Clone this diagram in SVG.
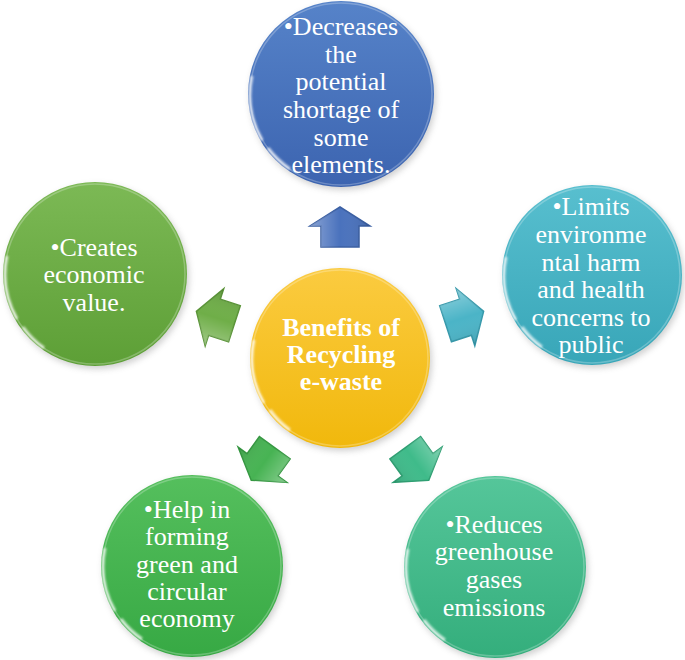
<svg xmlns="http://www.w3.org/2000/svg" width="685" height="660" viewBox="0 0 685 660">
<defs>
<filter id="blur" x="-20%" y="-20%" width="140%" height="140%"><feGaussianBlur stdDeviation="3"/></filter>
<filter id="soft" x="-20%" y="-20%" width="140%" height="140%"><feGaussianBlur stdDeviation="1.2"/></filter>
<linearGradient id="gBlue" x1="0" y1="0" x2="0" y2="1"><stop offset="0" stop-color="#5683c9"/><stop offset="1" stop-color="#3c64b0"/></linearGradient>
<linearGradient id="gTeal" x1="0" y1="0" x2="0" y2="1"><stop offset="0" stop-color="#58bfcf"/><stop offset="1" stop-color="#38a6b8"/></linearGradient>
<linearGradient id="gLime" x1="0" y1="0" x2="0" y2="1"><stop offset="0" stop-color="#7cb955"/><stop offset="1" stop-color="#5d9f36"/></linearGradient>
<linearGradient id="gGreen" x1="0" y1="0" x2="0" y2="1"><stop offset="0" stop-color="#55bf5d"/><stop offset="1" stop-color="#37a944"/></linearGradient>
<linearGradient id="gMint" x1="0" y1="0" x2="0" y2="1"><stop offset="0" stop-color="#55c69a"/><stop offset="1" stop-color="#34ae7c"/></linearGradient>
<linearGradient id="gYellow" x1="0" y1="0" x2="0" y2="1"><stop offset="0" stop-color="#fbcb40"/><stop offset="1" stop-color="#f1b80c"/></linearGradient>
<linearGradient id="aFace" x1="0" y1="0" x2="1" y2="0"><stop offset="0" stop-color="#fff" stop-opacity="0.35"/><stop offset="0.5" stop-color="#fff" stop-opacity="0"/><stop offset="1" stop-color="#000" stop-opacity="0.12"/></linearGradient>
<path id="arrowShape" d="M0,-151 L30,-132 L19,-132 L19,-111 L-19,-111 L-19,-132 L-30,-132 Z"/>
</defs>
<style>
.shadow{fill:#7a7a7a;opacity:0.35;filter:url(#blur)}
.rim{fill:none;stroke:#ffffff;stroke-width:3;stroke-opacity:0.75;filter:url(#soft)}
.edge{fill:none;stroke:#ffffff;stroke-opacity:0.25;stroke-width:1.5}
.t{font-family:"Liberation Serif","Times New Roman",serif;font-size:26px;fill:#ffffff;text-anchor:middle}
.tb{font-weight:bold}
.arrow-hi{fill:url(#aFace)}
</style>

<g id="connectors">
  <g transform="translate(340,358) rotate(0)"><use href="#arrowShape" fill="#4a72bd" stroke="#3a5fa3" stroke-width="1.5"/><use href="#arrowShape" class="arrow-hi"/></g>
  <g transform="translate(340,358) rotate(72)"><use href="#arrowShape" fill="#4bb4c7" stroke="#3799ab" stroke-width="1.5"/><use href="#arrowShape" class="arrow-hi"/></g>
  <g transform="translate(340,358) rotate(144)"><use href="#arrowShape" fill="#3fbb8a" stroke="#2e9f72" stroke-width="1.5"/><use href="#arrowShape" class="arrow-hi"/></g>
  <g transform="translate(340,358) rotate(216)"><use href="#arrowShape" fill="#47b353" stroke="#359841" stroke-width="1.5"/><use href="#arrowShape" class="arrow-hi"/></g>
  <g transform="translate(340,358) rotate(288)"><use href="#arrowShape" fill="#6fae48" stroke="#5a9438" stroke-width="1.5"/><use href="#arrowShape" class="arrow-hi"/></g>
</g>

<g id="center">
  <circle class="shadow" cx="342" cy="361" r="90"/>
  <circle cx="340" cy="358" r="90" fill="url(#gYellow)"/>
  <circle class="edge" cx="340" cy="358" r="88"/>
  <path class="rim" d="M 263.8,403 A 88,88 0 0 1 254.0,340"/>
  <path class="rim" d="M 290,430 A 88,88 0 0 1 270,410"/>
  <text class="t tb" x="341" y="336">Benefits of</text>
  <text class="t tb" x="341" y="363">Recycling</text>
  <text class="t tb" x="341" y="390">e-waste</text>
</g>

<g id="top">
  <circle class="shadow" cx="343" cy="97" r="93"/>
  <circle cx="341" cy="94" r="93" fill="url(#gBlue)"/>
  <circle class="edge" cx="341" cy="94" r="91"/>
  <path class="rim" d="M 262.2,140.5 A 91,91 0 0 1 252.0,76"/>
  <path class="rim" d="M 290,169 A 91,91 0 0 1 268,148"/>
  <text class="t" x="341" y="35">•Decreases</text>
  <text class="t" x="341" y="63">the</text>
  <text class="t" x="341" y="90">potential</text>
  <text class="t" x="341" y="118">shortage of</text>
  <text class="t" x="341" y="146">some</text>
  <text class="t" x="341" y="173">elements.</text>
</g>

<g id="right">
  <circle class="shadow" cx="594" cy="278" r="90"/>
  <circle cx="592" cy="275" r="90" fill="url(#gTeal)"/>
  <circle class="edge" cx="592" cy="275" r="88"/>
  <path class="rim" d="M 515.8,320 A 88,88 0 0 1 506,257"/>
  <path class="rim" d="M 542,347 A 88,88 0 0 1 522,327"/>
  <text class="t" x="591" y="215">•Limits</text>
  <text class="t" x="591" y="243">environme</text>
  <text class="t" x="591" y="271">ntal harm</text>
  <text class="t" x="591" y="298">and health</text>
  <text class="t" x="591" y="326">concerns to</text>
  <text class="t" x="591" y="353">public</text>
</g>

<g id="left">
  <circle class="shadow" cx="97" cy="277" r="92"/>
  <circle cx="95" cy="274" r="92" fill="url(#gLime)"/>
  <circle class="edge" cx="95" cy="274" r="90"/>
  <path class="rim" d="M 17,319 A 90,90 0 0 1 7,256"/>
  <path class="rim" d="M 44,348 A 90,90 0 0 1 23,327"/>
  <text class="t" x="94" y="256">•Creates</text>
  <text class="t" x="94" y="283">economic</text>
  <text class="t" x="94" y="311">value.</text>
</g>

<g id="bottom-left">
  <circle class="shadow" cx="194" cy="569" r="91"/>
  <circle cx="192" cy="566" r="91" fill="url(#gGreen)"/>
  <circle class="edge" cx="192" cy="566" r="89"/>
  <path class="rim" d="M 115,611 A 89,89 0 0 1 105,548"/>
  <path class="rim" d="M 142,639 A 89,89 0 0 1 121,619"/>
  <text class="t" x="187" y="518">•Help in</text>
  <text class="t" x="187" y="545">forming</text>
  <text class="t" x="187" y="573">green and</text>
  <text class="t" x="187" y="600">circular</text>
  <text class="t" x="187" y="627">economy</text>
</g>

<g id="bottom-right">
  <circle class="shadow" cx="497" cy="570" r="91"/>
  <circle cx="495" cy="567" r="91" fill="url(#gMint)"/>
  <circle class="edge" cx="495" cy="567" r="89"/>
  <path class="rim" d="M 418,612 A 89,89 0 0 1 408,549"/>
  <path class="rim" d="M 445,640 A 89,89 0 0 1 424,620"/>
  <text class="t" x="494" y="533">•Reduces</text>
  <text class="t" x="494" y="560">greenhouse</text>
  <text class="t" x="494" y="588">gases</text>
  <text class="t" x="494" y="616">emissions</text>
</g>
</svg>
